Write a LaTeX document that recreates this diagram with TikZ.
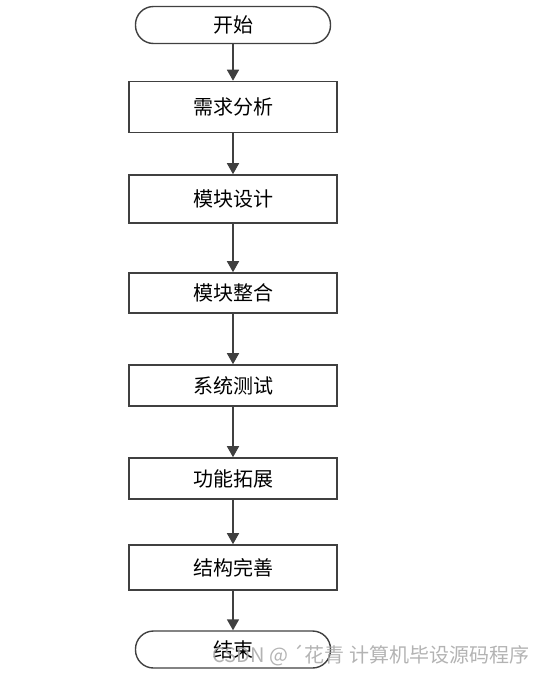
\documentclass[tikz,border=0pt]{standalone}
\usepackage{fontspec}
\newfontfamily\cjk{Noto Sans CJK SC}
\usetikzlibrary{arrows.meta}
\definecolor{lc}{HTML}{404040}
\begin{document}
\begin{tikzpicture}[x=1pt,y=-1pt,
  stepbox/.style={draw=lc, line width=1.6pt, minimum width=208pt, inner sep=0pt, font=\cjk\fontsize{20}{20}\selectfont},
  termbox/.style={draw=lc, line width=1.4pt, rounded corners=18pt, minimum width=195pt, minimum height=37pt, inner sep=0pt, font=\cjk\fontsize{20}{20}\selectfont},
  flow/.style={draw=lc, line width=1.6pt, -{Triangle[length=11pt,width=12pt]}}]
\useasboundingbox (0,0) rectangle (551,675);
\node[termbox] (s) at (233,25) {开始};
\node[stepbox, minimum height=51pt] (b1) at (233,107) {需求分析};
\node[stepbox, minimum height=48pt] (b2) at (233,199) {模块设计};
\node[stepbox, minimum height=40pt] (b3) at (233,293) {模块整合};
\node[stepbox, minimum height=41pt] (b4) at (233,385.5) {系统测试};
\node[stepbox, minimum height=41pt] (b5) at (233,478.5) {功能拓展};
\node[stepbox, minimum height=45pt] (b6) at (233,567.5) {结构完善};
\node[termbox] (e) at (233,649.5) {结束};
\draw[flow] (s) -- (b1);
\draw[flow] (b1) -- (b2);
\draw[flow] (b2) -- (b3);
\draw[flow] (b3) -- (b4);
\draw[flow] (b4) -- (b5);
\draw[flow] (b5) -- (b6);
\draw[flow] (b6) -- (e);
\node[anchor=west, text=gray!70, opacity=0.85, font=\cjk\fontsize{20}{20}\selectfont, inner sep=0pt] (wm) at (212,656) {CSDN @ ´花青 计算机毕设源码程序};
\end{tikzpicture}
\end{document}
